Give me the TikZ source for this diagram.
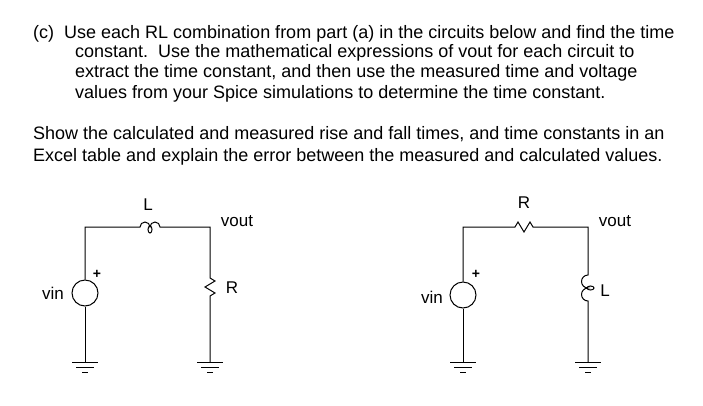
\documentclass[tikz,border=0pt]{standalone}
\usepackage{fontspec}
\setmainfont{Liberation Sans}
\begin{document}
\begin{tikzpicture}[x=1pt,y=-1pt,
  txt/.style={anchor=base west,inner sep=0pt,font=\fontsize{18}{20}\selectfont},
  lbl/.style={inner sep=0pt,font=\fontsize{17}{18}\selectfont},
  w/.style={line width=1pt}]
\useasboundingbox (0,0) rectangle (703,405);
\node[txt] (t1) at (33,38) {(c)\ \ Use each RL combination from part (a) in the circuits below and find the time};
\node[txt] (t2) at (75,57) {constant.\ \ Use the mathematical expressions of vout for each circuit to};
\node[txt] (t3) at (75,77) {extract the time constant, and then use the measured time and voltage};
\node[txt] (t4) at (75,98) {values from your Spice simulations to determine the time constant.};
\node[txt] (t5) at (33,139) {Show the calculated and measured rise and fall times, and time constants in an};
\node[txt] (t6) at (33,161) {Excel table and explain the error between the measured and calculated values.};
% circuit 1
\begin{scope}[w]
\node[draw,circle,w,minimum size=26pt,inner sep=0pt] (s1) at (85,293) {};
\draw (s1.north) -- (85,227) -- (140,227) arc(180:360:5) arc(180:360:5) -- (210,227) -- (210,278)
  -- (215,281) -- (205,287) -- (215,293) -- (210,296) -- (210,362);
\draw (150,229.5) ellipse (2 and 3.5);
\draw (s1.south) -- (85,362);
\draw (72,362) -- (98,362) (76,367) -- (94,367) (82,372) -- (88,372);
\draw (197,362) -- (223,362) (201,367) -- (219,367) (207,372) -- (213,372);
\end{scope}
\node[lbl] (L1) at (148,205) {L};
\node[lbl] (vo1) at (237,221) {vout};
\node[lbl] (R1) at (232,288) {R};
\node[lbl] (vi1) at (53,293) {vin};
\node[lbl,font=\fontsize{14}{14}\selectfont\bfseries] (p1) at (97,274) {+};
% circuit 2
\begin{scope}[w]
\node[draw,circle,w,minimum size=26pt,inner sep=0pt] (s2) at (463,295) {};
\draw (s2.north) -- (463,227) -- (515,227) -- (518,222) -- (524,232) -- (530,222) -- (533,227) -- (588,227) -- (588,275)
  arc(-90:-270:6.5) arc(-90:-270:6.5) -- (588,362);
\draw (590.5,288) ellipse (3.5 and 2);
\draw (s2.south) -- (463,362);
\draw (450,362) -- (476,362) (454,367) -- (472,367) (460,372) -- (466,372);
\draw (575,362) -- (601,362) (579,367) -- (597,367) (585,372) -- (591,372);
\end{scope}
\node[lbl] (R2) at (524,203) {R};
\node[lbl] (vo2) at (615,221) {vout};
\node[lbl] (L2) at (605,291) {L};
\node[lbl] (vi2) at (432,297) {vin};
\node[lbl,font=\fontsize{14}{14}\selectfont\bfseries] (p2) at (476,274) {+};
\end{tikzpicture}
\end{document}
